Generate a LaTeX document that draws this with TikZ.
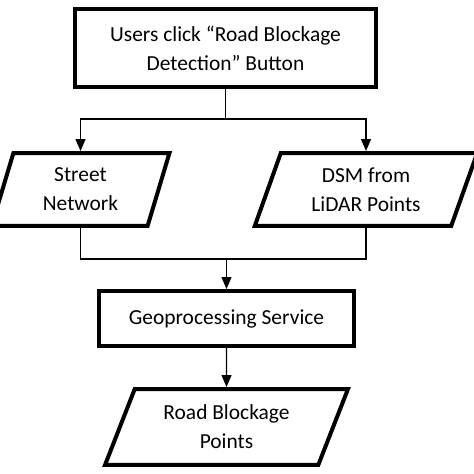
\documentclass[tikz,border=0pt]{standalone}
\usepackage{fontspec}
\setmainfont{Carlito}
\usetikzlibrary{shapes.geometric,arrows.meta}

\tikzset{
  procbox/.style={rectangle, draw, line width=0.08cm, align=center},
  databox/.style={trapezium, draw, line width=0.08cm, align=center,
    trapezium stretches body, inner sep=1pt},
  link/.style={line width=0.026cm},
  arrow/.style={link, -{Triangle[length=0.24cm, width=0.2cm]}}
}

\begin{document}
\begin{tikzpicture}[x=0.02cm, y=-0.02cm, font=\fontsize{12.2}{16.5}\selectfont]
\useasboundingbox (0,0) rectangle (474,474);

\node[procbox, minimum width=6.02cm, minimum height=1.56cm] (click) at (225.5,48) {Users click “Road Blockage\\Detection” Button};
\node[databox, trapezium left angle=64.8, trapezium right angle=115.2, minimum width=3.56cm, minimum height=1.46cm] (street) at (80.5,189.5) {Street\\Network};
\node[databox, trapezium left angle=61.2, trapezium right angle=118.8, minimum width=4.45cm, minimum height=1.46cm] (dsm) at (366,189.5) {DSM from\\LiDAR Points};
\node[procbox, minimum width=5.1cm, minimum height=1.1cm] (geo) at (226.5,318.5) {Geoprocessing Service};
\node[databox, trapezium left angle=58, trapezium right angle=122, minimum width=4.86cm, minimum height=1.52cm] (result) at (226.5,427) {Road Blockage\\Points};

\coordinate (fork) at (225.5,119);
\coordinate (join) at (226.5,259);

\draw[link] (click) -- (fork);
\draw[arrow] (fork) -| (street);
\draw[arrow] (fork) -| (dsm);
\draw[link] (street) |- (join);
\draw[link] (dsm) |- (join);
\draw[arrow] (join) -- (geo);
\draw[arrow] (geo) -- (result);
\end{tikzpicture}
\end{document}
